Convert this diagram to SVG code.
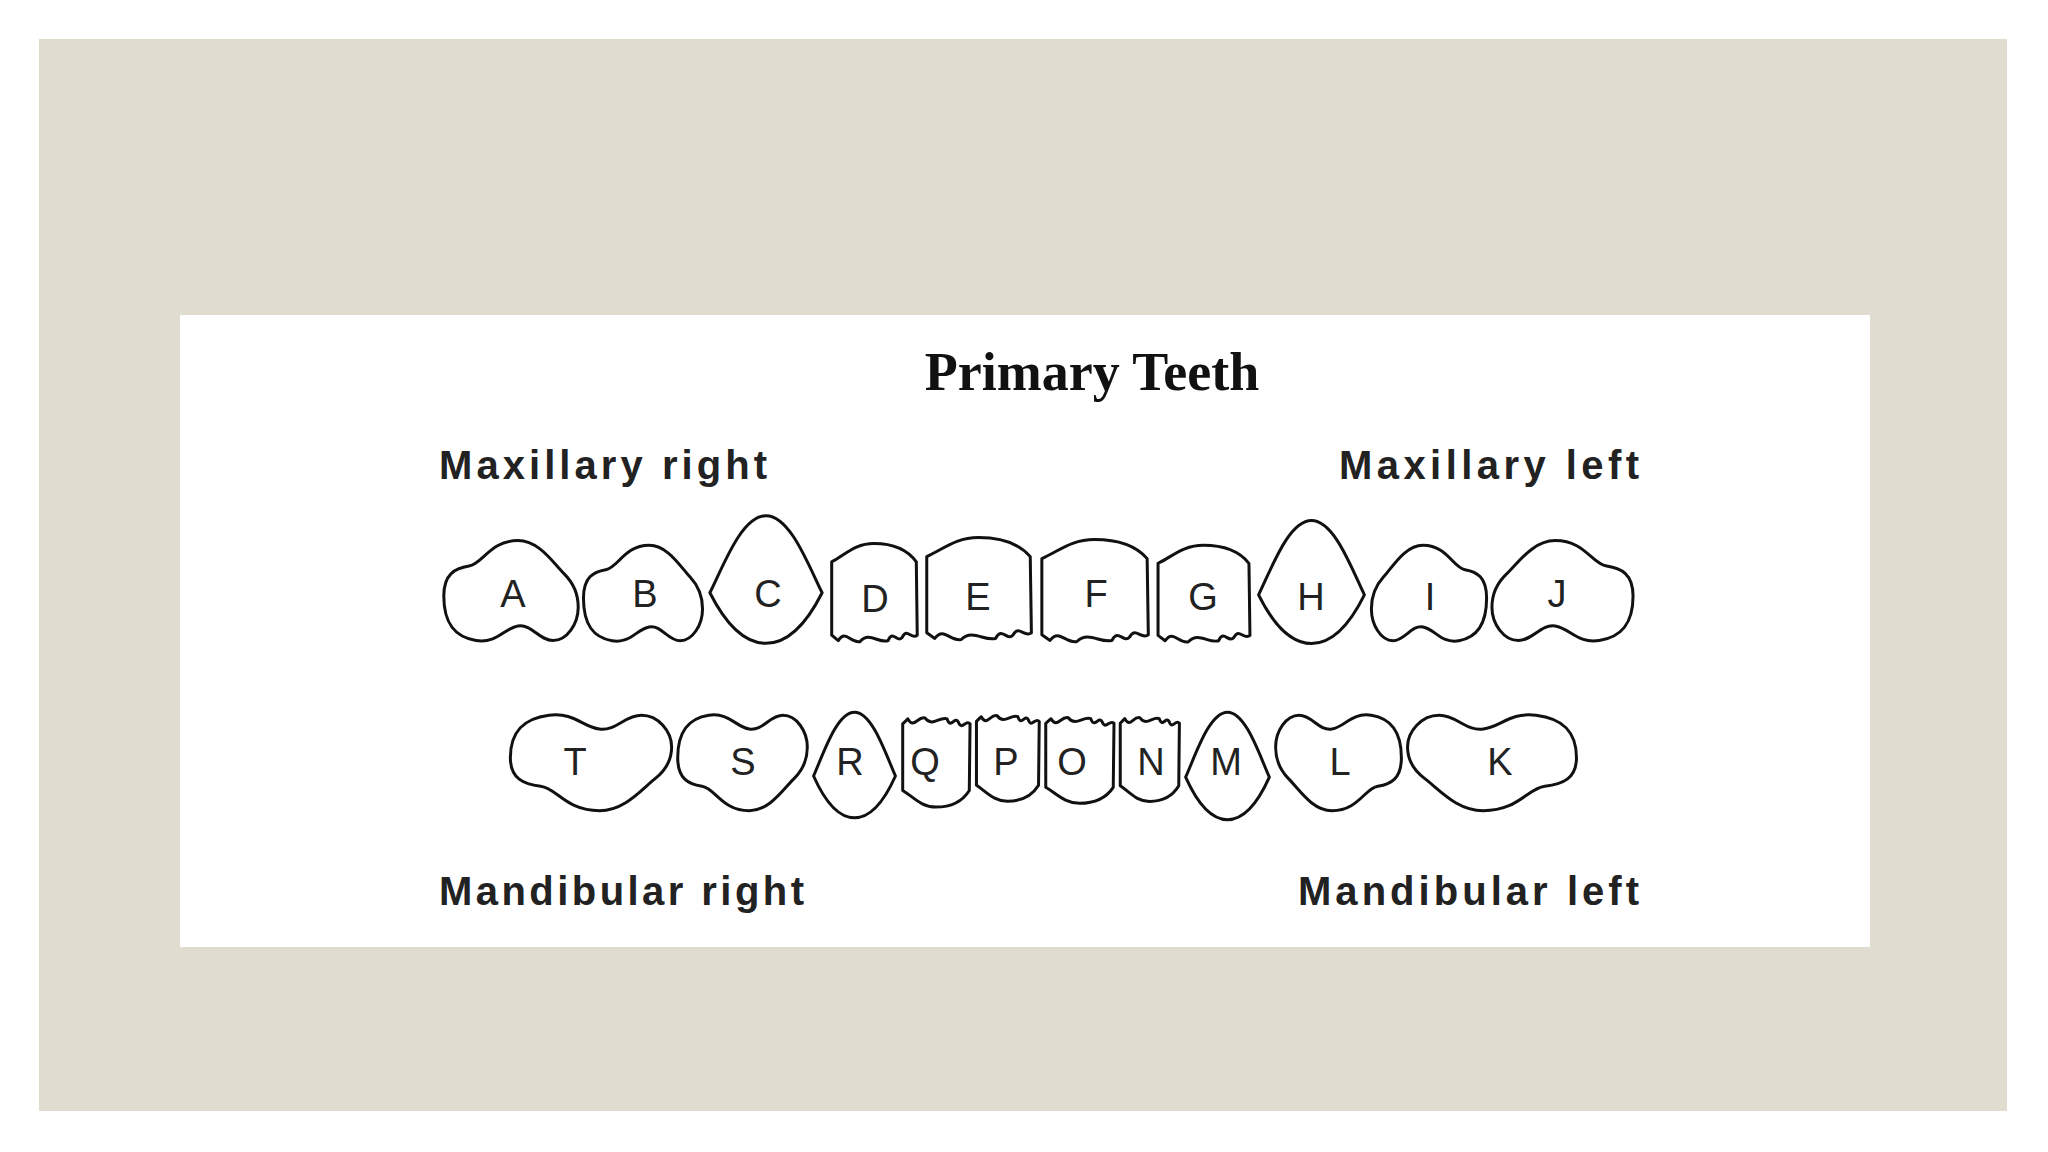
<svg xmlns="http://www.w3.org/2000/svg" width="2048" height="1152" viewBox="0 0 2048 1152">
<style>
.t use{fill:#fff;stroke:#111;stroke-width:3;vector-effect:non-scaling-stroke;stroke-linejoin:round}
.l{font-family:"Liberation Sans",Arial,sans-serif;font-size:38px;fill:#222;text-anchor:middle}
.h{font-family:"Liberation Sans",Arial,sans-serif;font-size:40px;font-weight:bold;fill:#222}
</style>
<defs>
<path id="mol" vector-effect="non-scaling-stroke" d="M2,55 C2,35 10,30 20,28 C30,26 35,5 55,5 C70,5 80,25 88,35 C96,45 98,55 98,65 C98,80 90,95 80,95 C70,95 65,80 55,82 C45,84 40,98 25,95 C10,92 2,80 2,55 Z"/>
<path id="can" vector-effect="non-scaling-stroke" d="M4,60 C15,40 30,2 50,2 C70,2 85,40 96,60 C85,80 70,98 50,98 C30,98 15,80 4,60 Z"/>
<path id="inc" vector-effect="non-scaling-stroke" d="M5,22 C20,15 30,5 50,5 C70,5 85,10 95,22 L96,90 C90,95 85,82 80,92 C75,98 70,84 65,95 C55,98 45,86 35,96 C25,98 20,84 12,95 L5,90 Z"/>
</defs>
<rect x="39" y="39" width="1968" height="1072" fill="#e0ddd0"/>
<rect x="180" y="315" width="1690" height="632" fill="#fff"/>
<text x="1092" y="390" font-family="Liberation Serif,serif" font-size="54" font-weight="bold" text-anchor="middle" fill="#111">Primary Teeth</text>
<text class="h" x="439" y="479" textLength="328">Maxillary right</text>
<text class="h" x="1339" y="479" textLength="300">Maxillary left</text>
<text class="h" x="439" y="905" textLength="365">Mandibular right</text>
<text class="h" x="1298" y="905" textLength="341">Mandibular left</text>
<g id="upper" class="t">
<g id="A"><use href="#mol" transform="translate(441,535) scale(1.40,1.11)"/></g>
<g id="B"><use href="#mol" transform="translate(581,540) scale(1.24,1.06)"/></g>
<g id="C"><use href="#can" transform="translate(705,513) scale(1.22,1.33)"/></g>
<g id="D"><use href="#inc" transform="translate(827,538) scale(0.94,1.08)"/></g>
<g id="E"><use href="#inc" transform="translate(921,532) scale(1.15,1.12)"/></g>
<g id="F"><use href="#inc" transform="translate(1036,534) scale(1.17,1.12)"/></g>
<g id="G"><use href="#inc" transform="translate(1153,540) scale(1.01,1.06)"/></g>
<g id="H"><use href="#can" transform="translate(1254,518) scale(1.15,1.28)"/></g>
<g id="I"><use href="#mol" transform="translate(1369,540) scale(-1.20,1.06) translate(-100,0)"/></g>
<g id="J"><use href="#mol" transform="translate(1489,535) scale(-1.47,1.11) translate(-100,0)"/></g>
</g>
<g id="lower" class="t">
<g id="T"><use href="#mol" transform="translate(507,816) scale(1.68,-1.06)"/></g>
<g id="S"><use href="#mol" transform="translate(675,816) scale(1.35,-1.06)"/></g>
<g id="R"><use href="#can" transform="translate(810,710) scale(0.89,1.1)"/></g>
<g id="Q"><use href="#inc" transform="translate(899,812) scale(0.74,-0.98)"/></g>
<g id="P"><use href="#inc" transform="translate(973,806) scale(0.69,-0.94)"/></g>
<g id="O"><use href="#inc" transform="translate(1042,808) scale(0.75,-0.94)"/></g>
<g id="N"><use href="#inc" transform="translate(1117,806) scale(0.65,-0.92)"/></g>
<g id="M"><use href="#can" transform="translate(1182,710) scale(0.91,1.12)"/></g>
<g id="L"><use href="#mol" transform="translate(1273,816) scale(-1.31,-1.06) translate(-100,0)"/></g>
<g id="K"><use href="#mol" transform="translate(1404,816) scale(-1.76,-1.06) translate(-100,0)"/></g>
</g>
<g id="labels">
<text class="l" x="513" y="607">A</text>
<text class="l" x="645" y="607">B</text>
<text class="l" x="768" y="607">C</text>
<text class="l" x="875" y="612">D</text>
<text class="l" x="978" y="610">E</text>
<text class="l" x="1096" y="607">F</text>
<text class="l" x="1203" y="610">G</text>
<text class="l" x="1311" y="610">H</text>
<text class="l" x="1430" y="610">I</text>
<text class="l" x="1557" y="607">J</text>
<text class="l" x="575" y="775">T</text>
<text class="l" x="743" y="775">S</text>
<text class="l" x="850" y="775">R</text>
<text class="l" x="925" y="775">Q</text>
<text class="l" x="1006" y="775">P</text>
<text class="l" x="1072" y="775">O</text>
<text class="l" x="1151" y="775">N</text>
<text class="l" x="1226" y="775">M</text>
<text class="l" x="1340" y="775">L</text>
<text class="l" x="1500" y="775">K</text>
</g>
</svg>
